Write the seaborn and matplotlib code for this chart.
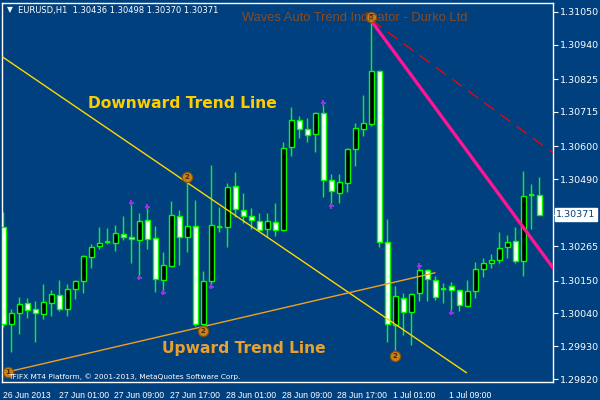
import numpy as np
import pandas as pd
import matplotlib
matplotlib.use("Agg")
import matplotlib.pyplot as plt
import matplotlib.transforms as mtransforms
import seaborn as sns

# ---------------- data (EURUSD H1) ----------------
opens = [1.30330, 1.30005, 1.30042, 1.30075, 1.30055, 1.30038, 1.30075, 1.30102, 1.30055, 1.30122,
         1.30149, 1.30229, 1.30266, 1.30280, 1.30276, 1.30306, 1.30296, 1.30286, 1.30353, 1.30293,
         1.30152, 1.30199, 1.30367, 1.30296, 1.30333, 1.30005, 1.30149, 1.30330, 1.30330, 1.30467,
         1.30387, 1.30367, 1.30350, 1.30323, 1.30346, 1.30320, 1.30598, 1.30688, 1.30658, 1.30641,
         1.30712, 1.30487, 1.30444, 1.30477, 1.30591, 1.30658, 1.30675, 1.30852, 1.30280, 1.30001,
         1.30092, 1.30045, 1.30109, 1.30186, 1.30152, 1.30122, 1.30132, 1.30119, 1.30065, 1.30115,
         1.30189, 1.30209, 1.30219, 1.30263, 1.30283, 1.30216, 1.30438, 1.30436]
highs = [1.30380, 1.30055, 1.30095, 1.30092, 1.30082, 1.30139, 1.30119, 1.30152, 1.30139, 1.30152,
         1.30236, 1.30273, 1.30330, 1.30326, 1.30336, 1.30367, 1.30410, 1.30377, 1.30397, 1.30333,
         1.30246, 1.30417, 1.30387, 1.30494, 1.30420, 1.30182, 1.30537, 1.30397, 1.30477, 1.30514,
         1.30444, 1.30393, 1.30377, 1.30377, 1.30410, 1.30615, 1.30732, 1.30702, 1.30695, 1.30715,
         1.30745, 1.30507, 1.30507, 1.30594, 1.30678, 1.30772, 1.31030, 1.30856, 1.30357, 1.30132,
         1.30109, 1.30109, 1.30199, 1.30189, 1.30166, 1.30142, 1.30146, 1.30119, 1.30152, 1.30213,
         1.30226, 1.30239, 1.30313, 1.30303, 1.30330, 1.30517, 1.30474, 1.30498]
lows = [1.29995, 1.29911, 1.29971, 1.30025, 1.29945, 1.30022, 1.30032, 1.30048, 1.30032, 1.30089,
        1.30109, 1.30192, 1.30256, 1.30273, 1.30249, 1.30286, 1.30209, 1.30159, 1.30256, 1.30112,
        1.30109, 1.30196, 1.30202, 1.30246, 1.29998, 1.29985, 1.30129, 1.30313, 1.30263, 1.30363,
        1.30343, 1.30323, 1.30316, 1.30296, 1.30300, 1.30316, 1.30568, 1.30628, 1.30615, 1.30581,
        1.30430, 1.30400, 1.30410, 1.30447, 1.30534, 1.30635, 1.30668, 1.30263, 1.29945, 1.29908,
        1.29968, 1.29935, 1.30082, 1.30082, 1.30085, 1.30075, 1.30042, 1.30048, 1.30062, 1.30092,
        1.30162, 1.30192, 1.30209, 1.30226, 1.30209, 1.30166, 1.30323, 1.30370]
closes = [1.30005, 1.30042, 1.30072, 1.30052, 1.30042, 1.30079, 1.30105, 1.30055, 1.30122, 1.30149,
          1.30233, 1.30263, 1.30276, 1.30280, 1.30310, 1.30296, 1.30290, 1.30350, 1.30290, 1.30155,
          1.30202, 1.30371, 1.30296, 1.30333, 1.30005, 1.30149, 1.30336, 1.30330, 1.30464, 1.30390,
          1.30367, 1.30353, 1.30320, 1.30350, 1.30320, 1.30594, 1.30688, 1.30658, 1.30638, 1.30712,
          1.30487, 1.30450, 1.30481, 1.30591, 1.30661, 1.30678, 1.30852, 1.30280, 1.30005, 1.30099,
          1.30045, 1.30105, 1.30186, 1.30155, 1.30095, 1.30122, 1.30119, 1.30068, 1.30115, 1.30189,
          1.30209, 1.30219, 1.30259, 1.30280, 1.30216, 1.30434, 1.30438, 1.30371]

x_tick_labels = ["26 Jun 2013", "27 Jun 01:00", "27 Jun 09:00", "27 Jun 17:00", "28 Jun 01:00",
                 "28 Jun 09:00", "28 Jun 17:00", "1 Jul 01:00", "1 Jul 09:00"]
x_tick_pos = [-0.08, 6.92, 13.87, 20.84, 27.8, 34.8, 41.75, 48.75, 55.7]
y_tick_values = [1.31050, 1.30940, 1.30825, 1.30715, 1.30600, 1.30490,
                 1.30265, 1.30150, 1.30040, 1.29930, 1.29820]
y_tick_labels = ["1.31050", "1.30940", "1.30825", "1.30715", "1.30600", "1.30490",
                 "1.30265", "1.30150", "1.30040", "1.29930", "1.29820"]

# trend lines (bar index, price)
down_line_x = [-0.08, 57.9]
down_line_y = [1.30899, 1.29841]
up_line_x = [0.59, 53.96]
up_line_y = [1.29844, 1.30176]
pink_line_x = [46.0, 69.17]
pink_line_y = [1.31020, 1.30176]
red_line_x = [46.0, 68.7]
red_line_y = [1.31023, 1.30578]

# fractals
up_fractals = [16, 18, 23, 40, 52]
down_fractals = [17, 20, 26, 41, 49, 56]

# wave points
wave_x = [0.6, 23, 25, 46, 49]
wave_y = [1.29844, 1.30497, 1.29981, 1.31033, 1.29898]
wave_labels = ["1", "2", "2", "5", "2"]

# ---------------- style ----------------
BG = "#00407f"
GREEN = "#00ff00"
sns.set_style("dark", rc={"axes.facecolor": BG, "figure.facecolor": BG,
                          "axes.edgecolor": "white", "axes.grid": False})
plt.rcParams['font.family'] = ['DejaVu Sans']

fig = plt.figure(figsize=(6, 4), dpi=100)
ax = fig.add_axes([2 / 600, 18 / 400, 551 / 600, 379 / 400])
ax.set_facecolor(BG)

df = pd.DataFrame({"open": opens, "high": highs, "low": lows, "close": closes})
df["idx"] = np.arange(len(df))
bull = df["close"] > df["open"]
doji = df["close"] == df["open"]

ax.vlines(df["idx"], df["low"], df["high"], color=GREEN, lw=1, zorder=2)
body_bottom = np.minimum(df["open"], df["close"])
body_h = (df["close"] - df["open"]).abs()
ax.bar(df["idx"], body_h, bottom=body_bottom, width=0.66,
       color=np.where(bull, "black", "white"), edgecolor=GREEN, linewidth=1, zorder=3)
dd = df[doji]
ax.hlines(dd["open"], dd["idx"] - 0.33, dd["idx"] + 0.33, color=GREEN, lw=1.6, zorder=3)

# trend lines
sns.lineplot(x=down_line_x, y=down_line_y, color="#ffd700", lw=1, ax=ax, zorder=4)
sns.lineplot(x=up_line_x, y=up_line_y, color="#f0a020", lw=1, ax=ax, zorder=4)
sns.lineplot(x=pink_line_x, y=pink_line_y, color="#ff1493", lw=2.4, ax=ax, zorder=4)
ax.plot(red_line_x, red_line_y, color="#ff0000", lw=0.9, ls=(0, (10, 6)), zorder=4)

# fractals
sns.scatterplot(x=up_fractals, y=df["high"].iloc[up_fractals].values, marker="P", s=14,
                color="#9a30e8", edgecolor="none", ax=ax, zorder=5)
sns.scatterplot(x=down_fractals, y=df["low"].iloc[down_fractals].values, marker="P", s=14,
                color="#9a30e8", edgecolor="none", ax=ax, zorder=5)

# wave circles
sns.scatterplot(x=wave_x, y=wave_y, s=55, color="#c8801e", edgecolor="#8a5200",
                linewidth=0.8, ax=ax, zorder=6)
for wx, wy, wl in zip(wave_x, wave_y, wave_labels):
    ax.text(wx, wy, wl, fontsize=5, color="#4a2800", ha="center", va="center",
            fontweight="bold", zorder=7)

ax.set_xlim(-0.16, 68.71)
ax.set_ylim(1.29810, 1.31080)

ax.yaxis.tick_right()
ax.set_yticks(y_tick_values)
ax.set_yticklabels(y_tick_labels)
ax.set_xticks(x_tick_pos)
ax.set_xticklabels(x_tick_labels, ha="left", family=["Liberation Sans", "DejaVu Sans"],
                   fontsize=6.2)
ax.tick_params(axis="both", colors="white", labelcolor="white", length=3.5,
               width=0.8, direction="out", pad=1.5)
ax.tick_params(axis="y", labelsize=6.8)
ax.tick_params(axis="x", pad=3)
for s in ax.spines.values():
    s.set_color("white")
    s.set_linewidth(1)

# current price label
tr = mtransforms.blended_transform_factory(ax.transAxes, ax.transData)
ax.text(1.006, closes[-1], "1.30371", transform=tr, fontsize=6.8, color=BG,
        ha="left", va="center", clip_on=False,
        bbox=dict(boxstyle="square,pad=0.18", fc="white", ec="white"))
ax.plot([1.0, 1.007], [closes[-1], closes[-1]], transform=tr, color="white",
        lw=0.8, clip_on=False)

# texts
fig.text(7 / 600, 1 - 10 / 400, "\u25bc", fontsize=5.5, color="white", va="center")
fig.text(18 / 600, 1 - 10 / 400, "EURUSD,H1  1.30436 1.30498 1.30370 1.30371",
         fontsize=6.05, color="white", va="center")
fig.text(355 / 600, 1 - 18 / 400, "Waves Auto Trend Indicator - Durko Ltd",
         fontsize=9.3, color="#8b4a1f", ha="center", va="center",
         family=["Liberation Sans", "DejaVu Sans"])
fig.text(182 / 600, 1 - 103 / 400, "Downward Trend Line", fontsize=11.2,
         fontweight="bold", color="#ffcc00", ha="center", va="center")
fig.text(244 / 600, 1 - 348 / 400, "Upward Trend Line", fontsize=11.2,
         fontweight="bold", color="#e8a030", ha="center", va="center")
fig.text(8 / 600, 1 - 377 / 400, "TFIFX MT4 Platform, \u00a9 2001-2013, MetaQuotes Software Corp.",
         fontsize=5.35, color="white", va="center")

fig.savefig("out.png", dpi=100, facecolor=BG)
